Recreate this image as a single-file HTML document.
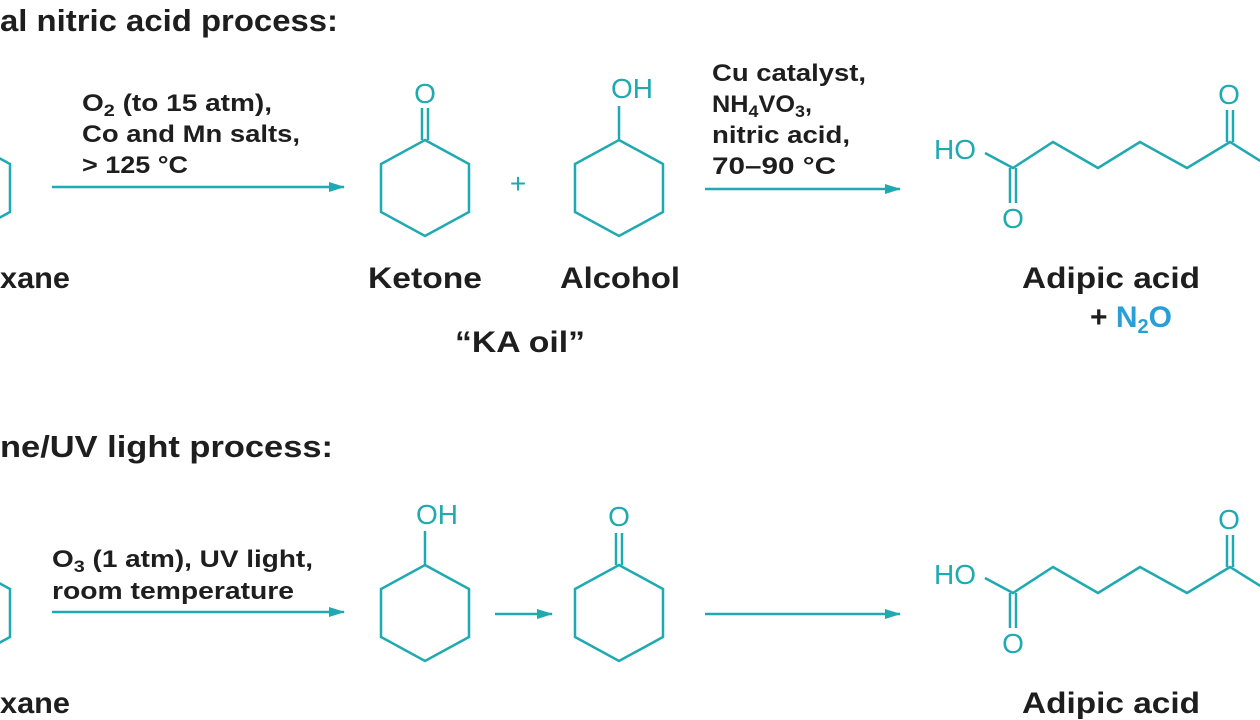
<!DOCTYPE html>
<html><head><meta charset="utf-8"><style>
html,body{margin:0;padding:0;background:#fff;width:1260px;height:720px;overflow:hidden}
svg{display:block}
text{font-family:"Liberation Sans",sans-serif;fill:#1e1e1e;font-weight:bold}
.c{fill:#1fa9b1;font-weight:normal}
</style></head><body>
<svg width="1260" height="720" viewBox="0 0 1260 720">
<defs>
<marker id="a" markerWidth="16" markerHeight="10" refX="15" refY="5" orient="auto" markerUnits="userSpaceOnUse"><path d="M0,0 L16,5 L0,10 Z" fill="#1fa9b1"/></marker>
<g id="hex"><polygon points="0,-48 44,-24 44,24 0,48 -44,24 -44,-24" fill="none" stroke="#1fa9b1" stroke-width="2.5"/></g>
<g id="adip" fill="none" stroke="#1fa9b1" stroke-width="2.5">
<polyline points="985,153 1013,168 1053,142 1098,168 1140,142 1187,168 1230,142 1262,162"/>
<line x1="1010" y1="168" x2="1010" y2="203"/><line x1="1016" y1="168" x2="1016" y2="203"/>
<line x1="1227" y1="142" x2="1227" y2="110"/><line x1="1233" y1="142" x2="1233" y2="110"/>
</g>
</defs>
<g stroke="#1fa9b1" stroke-width="2.5" fill="none">
<use href="#hex" x="-34" y="188"/>
<use href="#hex" x="425" y="188"/>
<line x1="422" y1="140" x2="422" y2="108"/><line x1="428" y1="140" x2="428" y2="108"/>
<use href="#hex" x="619" y="188"/>
<line x1="619" y1="140" x2="619" y2="106"/>
<line x1="52" y1="187" x2="344" y2="187" marker-end="url(#a)"/>
<line x1="705" y1="189" x2="900" y2="189" marker-end="url(#a)"/>
<use href="#hex" x="-34" y="613"/>
<use href="#hex" x="425" y="613"/>
<line x1="425" y1="565" x2="425" y2="531"/>
<use href="#hex" x="619" y="613"/>
<line x1="616" y1="565" x2="616" y2="533"/><line x1="622" y1="565" x2="622" y2="533"/>
<line x1="52" y1="612" x2="344" y2="612" marker-end="url(#a)"/>
<line x1="495" y1="614" x2="552" y2="614" marker-end="url(#a)"/>
<line x1="705" y1="614" x2="900" y2="614" marker-end="url(#a)"/>
</g>
<use href="#adip"/>
<use href="#adip" y="425"/>
<g class="c" font-size="28">
<text class="c" x="425" y="103" text-anchor="middle">O</text>
<text class="c" x="632" y="98" text-anchor="middle">OH</text>
<text class="c" x="955" y="159" text-anchor="middle">HO</text>
<text class="c" x="1013" y="228" text-anchor="middle">O</text>
<text class="c" x="1229" y="104" text-anchor="middle">O</text>
<text class="c" x="518" y="193" text-anchor="middle" font-size="28">+</text>
<text class="c" x="437" y="524" text-anchor="middle">OH</text>
<text class="c" x="619" y="526" text-anchor="middle">O</text>
<text class="c" x="955" y="584" text-anchor="middle">HO</text>
<text class="c" x="1013" y="653" text-anchor="middle">O</text>
<text class="c" x="1229" y="529" text-anchor="middle">O</text>
</g>
<g font-size="31">
<text x="0" y="31" textLength="338" lengthAdjust="spacingAndGlyphs">al nitric acid process:</text>
<text x="0" y="457" textLength="333" lengthAdjust="spacingAndGlyphs">ne/UV light process:</text>
</g>
<g font-size="30">
<text x="0" y="288" textLength="70" lengthAdjust="spacingAndGlyphs">xane</text>
<text x="368" y="288" textLength="114" lengthAdjust="spacingAndGlyphs">Ketone</text>
<text x="560" y="288" textLength="120" lengthAdjust="spacingAndGlyphs">Alcohol</text>
<text x="455" y="352" textLength="130" lengthAdjust="spacingAndGlyphs">“KA oil”</text>
<text x="1022" y="288" textLength="178" lengthAdjust="spacingAndGlyphs">Adipic acid</text>
<text x="1090" y="327">+ <tspan fill="#2a9fd6">N<tspan font-size="20" dy="6">2</tspan><tspan dy="-6">O</tspan></tspan></text>
<text x="0" y="713" textLength="70" lengthAdjust="spacingAndGlyphs">xane</text>
<text x="1022" y="713" textLength="178" lengthAdjust="spacingAndGlyphs">Adipic acid</text>
</g>
<g font-size="24">
<text x="82" y="111" textLength="190" lengthAdjust="spacingAndGlyphs">O<tspan font-size="17" dy="5">2</tspan><tspan dy="-5"> (to 15 atm),</tspan></text>
<text x="82" y="142" textLength="218" lengthAdjust="spacingAndGlyphs">Co and Mn salts,</text>
<text x="82" y="173" textLength="106" lengthAdjust="spacingAndGlyphs">&gt; 125 °C</text>
<text x="712" y="81" textLength="154" lengthAdjust="spacingAndGlyphs">Cu catalyst,</text>
<text x="712" y="112" textLength="100" lengthAdjust="spacingAndGlyphs">NH<tspan font-size="17" dy="5">4</tspan><tspan dy="-5">VO</tspan><tspan font-size="17" dy="5">3</tspan><tspan dy="-5">,</tspan></text>
<text x="712" y="143" textLength="138" lengthAdjust="spacingAndGlyphs">nitric acid,</text>
<text x="712" y="174" textLength="124" lengthAdjust="spacingAndGlyphs">70–90 °C</text>
<text x="52" y="567" textLength="261" lengthAdjust="spacingAndGlyphs">O<tspan font-size="17" dy="5">3</tspan><tspan dy="-5"> (1 atm), UV light,</tspan></text>
<text x="52" y="599" textLength="242" lengthAdjust="spacingAndGlyphs">room temperature</text>
</g>
</svg>
</body></html>
